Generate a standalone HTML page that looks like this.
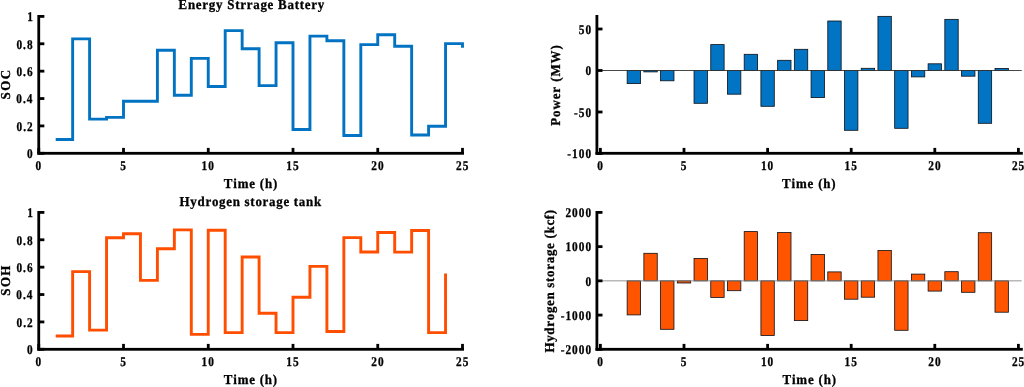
<!DOCTYPE html>
<html><head><meta charset="utf-8"><style>
html,body{margin:0;padding:0;background:#fff;}
body{width:1024px;height:387px;overflow:hidden;}
svg{display:block;will-change:transform;}
text{font-family:"Liberation Serif", serif;font-weight:bold;fill:#000;stroke:#000;stroke-width:0.3px;font-kerning:none;font-variant-ligatures:none;text-rendering:geometricPrecision;}
</style></head><body>
<svg width="1024" height="387" viewBox="0 0 1024 387">
<rect x="37.35" y="15.00" width="2.8" height="139.70" fill="#000"/>
<rect x="37.35" y="151.90" width="426.65" height="2.8" fill="#000"/>
<rect x="38.75" y="151.90" width="5.6" height="2.8" fill="#000"/>
<rect x="38.75" y="124.52" width="5.6" height="2.8" fill="#000"/>
<rect x="38.75" y="97.14" width="5.6" height="2.8" fill="#000"/>
<rect x="38.75" y="69.76" width="5.6" height="2.8" fill="#000"/>
<rect x="38.75" y="42.38" width="5.6" height="2.8" fill="#000"/>
<rect x="38.75" y="15.00" width="5.6" height="2.8" fill="#000"/>
<rect x="37.35" y="147.90" width="2.8" height="5.4" fill="#000"/>
<rect x="122.10" y="147.90" width="2.8" height="5.4" fill="#000"/>
<rect x="206.85" y="147.90" width="2.8" height="5.4" fill="#000"/>
<rect x="291.60" y="147.90" width="2.8" height="5.4" fill="#000"/>
<rect x="376.35" y="147.90" width="2.8" height="5.4" fill="#000"/>
<rect x="461.10" y="147.90" width="2.8" height="5.4" fill="#000"/>
<text transform="translate(27.03 158.06) scale(0.85 1)" font-size="13.3" letter-spacing="1.200">0</text>
<text transform="translate(16.56 130.68) scale(0.85 1)" font-size="13.3" letter-spacing="1.200">0.2</text>
<text transform="translate(16.29 103.30) scale(0.85 1)" font-size="13.3" letter-spacing="1.200">0.4</text>
<text transform="translate(16.41 75.92) scale(0.85 1)" font-size="13.3" letter-spacing="1.200">0.6</text>
<text transform="translate(16.45 48.54) scale(0.85 1)" font-size="13.3" letter-spacing="1.200">0.8</text>
<text transform="translate(27.18 21.16) scale(0.85 1)" font-size="13.3" letter-spacing="1.200">1</text>
<text transform="translate(35.62 170.30) scale(0.85 1)" font-size="13.3" letter-spacing="1.200">0</text>
<text transform="translate(120.35 170.30) scale(0.85 1)" font-size="13.3" letter-spacing="1.200">5</text>
<text transform="translate(201.55 170.30) scale(0.85 1)" font-size="13.3" letter-spacing="1.200">10</text>
<text transform="translate(286.29 170.30) scale(0.85 1)" font-size="13.3" letter-spacing="1.200">15</text>
<text transform="translate(371.27 170.30) scale(0.85 1)" font-size="13.3" letter-spacing="1.200">20</text>
<text transform="translate(456.01 170.30) scale(0.85 1)" font-size="13.3" letter-spacing="1.200">25</text>
<polyline fill="none" stroke="#0273C2" stroke-width="2.9" stroke-linejoin="miter" stroke-linecap="butt" points="55.70,139.50 72.65,139.50 72.65,38.90 89.60,38.90 89.60,119.10 106.55,119.10 106.55,117.40 123.50,117.40 123.50,101.30 140.45,101.30 140.45,101.30 157.40,101.30 157.40,50.20 174.35,50.20 174.35,95.30 191.30,95.30 191.30,58.40 208.25,58.40 208.25,86.50 225.20,86.50 225.20,30.60 242.15,30.60 242.15,48.70 259.10,48.70 259.10,85.60 276.05,85.60 276.05,42.80 293.00,42.80 293.00,129.50 309.95,129.50 309.95,36.10 326.90,36.10 326.90,40.70 343.85,40.70 343.85,135.50 360.80,135.50 360.80,44.60 377.75,44.60 377.75,34.70 394.70,34.70 394.70,46.20 411.65,46.20 411.65,135.00 428.60,135.00 428.60,126.30 445.55,126.30 445.55,43.65 462.50,43.65 462.50,47.80"/>
<rect x="37.35" y="211.00" width="2.8" height="139.70" fill="#000"/>
<rect x="37.35" y="347.90" width="426.65" height="2.8" fill="#000"/>
<rect x="38.75" y="347.90" width="5.6" height="2.8" fill="#000"/>
<rect x="38.75" y="320.52" width="5.6" height="2.8" fill="#000"/>
<rect x="38.75" y="293.14" width="5.6" height="2.8" fill="#000"/>
<rect x="38.75" y="265.76" width="5.6" height="2.8" fill="#000"/>
<rect x="38.75" y="238.38" width="5.6" height="2.8" fill="#000"/>
<rect x="38.75" y="211.00" width="5.6" height="2.8" fill="#000"/>
<rect x="37.35" y="343.90" width="2.8" height="5.4" fill="#000"/>
<rect x="122.10" y="343.90" width="2.8" height="5.4" fill="#000"/>
<rect x="206.85" y="343.90" width="2.8" height="5.4" fill="#000"/>
<rect x="291.60" y="343.90" width="2.8" height="5.4" fill="#000"/>
<rect x="376.35" y="343.90" width="2.8" height="5.4" fill="#000"/>
<rect x="461.10" y="343.90" width="2.8" height="5.4" fill="#000"/>
<text transform="translate(27.03 354.06) scale(0.85 1)" font-size="13.3" letter-spacing="1.200">0</text>
<text transform="translate(16.56 326.68) scale(0.85 1)" font-size="13.3" letter-spacing="1.200">0.2</text>
<text transform="translate(16.29 299.30) scale(0.85 1)" font-size="13.3" letter-spacing="1.200">0.4</text>
<text transform="translate(16.41 271.92) scale(0.85 1)" font-size="13.3" letter-spacing="1.200">0.6</text>
<text transform="translate(16.45 244.54) scale(0.85 1)" font-size="13.3" letter-spacing="1.200">0.8</text>
<text transform="translate(27.18 217.16) scale(0.85 1)" font-size="13.3" letter-spacing="1.200">1</text>
<text transform="translate(35.62 366.30) scale(0.85 1)" font-size="13.3" letter-spacing="1.200">0</text>
<text transform="translate(120.35 366.30) scale(0.85 1)" font-size="13.3" letter-spacing="1.200">5</text>
<text transform="translate(201.55 366.30) scale(0.85 1)" font-size="13.3" letter-spacing="1.200">10</text>
<text transform="translate(286.29 366.30) scale(0.85 1)" font-size="13.3" letter-spacing="1.200">15</text>
<text transform="translate(371.27 366.30) scale(0.85 1)" font-size="13.3" letter-spacing="1.200">20</text>
<text transform="translate(456.01 366.30) scale(0.85 1)" font-size="13.3" letter-spacing="1.200">25</text>
<polyline fill="none" stroke="#FF4E00" stroke-width="2.9" stroke-linejoin="miter" stroke-linecap="butt" points="55.70,336.00 72.65,336.00 72.65,271.60 89.60,271.60 89.60,330.10 106.55,330.10 106.55,237.80 123.50,237.80 123.50,233.80 140.45,233.80 140.45,280.40 157.40,280.40 157.40,248.70 174.35,248.70 174.35,229.90 191.30,229.90 191.30,334.40 208.25,334.40 208.25,230.30 225.20,230.30 225.20,332.60 242.15,332.60 242.15,257.00 259.10,257.00 259.10,313.20 276.05,313.20 276.05,332.60 293.00,332.60 293.00,297.30 309.95,297.30 309.95,266.40 326.90,266.40 326.90,331.50 343.85,331.50 343.85,237.60 360.80,237.60 360.80,252.00 377.75,252.00 377.75,232.50 394.70,232.50 394.70,252.10 411.65,252.10 411.65,230.50 428.60,230.50 428.60,332.60 445.55,332.60 445.55,273.40"/>
<text transform="translate(178.53 9.25) scale(0.95 1)" font-size="13.6" letter-spacing="0.796">Energy Strrage Battery</text>
<text transform="translate(179.58 206.40) scale(0.95 1)" font-size="13.6" letter-spacing="0.766">Hydrogen storage tank</text>
<text transform="translate(223.85 187.70) scale(0.95 1)" font-size="13.6" letter-spacing="0.864">Time (h)</text>
<text transform="translate(223.85 383.90) scale(0.95 1)" font-size="13.6" letter-spacing="0.834">Time (h)</text>
<text transform="translate(9.80 99.54) rotate(-90) scale(0.95 1)" font-size="13.6" letter-spacing="1.635">SOC</text>
<text transform="translate(9.80 295.64) rotate(-90) scale(0.95 1)" font-size="13.6" letter-spacing="1.430">SOH</text>
<rect x="627.15" y="70.50" width="13.38" height="13.10" fill="#0274C4" stroke="#0c0f16" stroke-width="0.8"/>
<rect x="643.87" y="70.50" width="13.38" height="1.40" fill="#0274C4" stroke="#0c0f16" stroke-width="0.8"/>
<rect x="660.59" y="70.50" width="13.38" height="10.30" fill="#0274C4" stroke="#0c0f16" stroke-width="0.8"/>
<rect x="677.31" y="70.50" width="13.38" height="0.00" fill="#0274C4" stroke="#0c0f16" stroke-width="0.8"/>
<rect x="694.03" y="70.50" width="13.38" height="32.80" fill="#0274C4" stroke="#0c0f16" stroke-width="0.8"/>
<rect x="710.75" y="44.60" width="13.38" height="25.90" fill="#0274C4" stroke="#0c0f16" stroke-width="0.8"/>
<rect x="727.47" y="70.50" width="13.38" height="23.70" fill="#0274C4" stroke="#0c0f16" stroke-width="0.8"/>
<rect x="744.19" y="54.30" width="13.38" height="16.20" fill="#0274C4" stroke="#0c0f16" stroke-width="0.8"/>
<rect x="760.91" y="70.50" width="13.38" height="35.80" fill="#0274C4" stroke="#0c0f16" stroke-width="0.8"/>
<rect x="777.63" y="60.30" width="13.38" height="10.20" fill="#0274C4" stroke="#0c0f16" stroke-width="0.8"/>
<rect x="794.35" y="49.30" width="13.38" height="21.20" fill="#0274C4" stroke="#0c0f16" stroke-width="0.8"/>
<rect x="811.07" y="70.50" width="13.38" height="27.10" fill="#0274C4" stroke="#0c0f16" stroke-width="0.8"/>
<rect x="827.79" y="21.00" width="13.38" height="49.50" fill="#0274C4" stroke="#0c0f16" stroke-width="0.8"/>
<rect x="844.51" y="70.50" width="13.38" height="59.80" fill="#0274C4" stroke="#0c0f16" stroke-width="0.8"/>
<rect x="861.23" y="68.30" width="13.38" height="2.20" fill="#0274C4" stroke="#0c0f16" stroke-width="0.8"/>
<rect x="877.95" y="16.35" width="13.38" height="54.15" fill="#0274C4" stroke="#0c0f16" stroke-width="0.8"/>
<rect x="894.67" y="70.50" width="13.38" height="57.80" fill="#0274C4" stroke="#0c0f16" stroke-width="0.8"/>
<rect x="911.39" y="70.50" width="13.38" height="6.40" fill="#0274C4" stroke="#0c0f16" stroke-width="0.8"/>
<rect x="928.11" y="63.80" width="13.38" height="6.70" fill="#0274C4" stroke="#0c0f16" stroke-width="0.8"/>
<rect x="944.83" y="19.35" width="13.38" height="51.15" fill="#0274C4" stroke="#0c0f16" stroke-width="0.8"/>
<rect x="961.55" y="70.50" width="13.38" height="5.70" fill="#0274C4" stroke="#0c0f16" stroke-width="0.8"/>
<rect x="978.27" y="70.50" width="13.38" height="52.80" fill="#0274C4" stroke="#0c0f16" stroke-width="0.8"/>
<rect x="994.99" y="68.40" width="13.38" height="2.10" fill="#0274C4" stroke="#0c0f16" stroke-width="0.8"/>
<line x1="596.9" y1="70.5" x2="1021.7" y2="70.5" stroke="#333" stroke-width="0.9"/>
<rect x="595.50" y="15.00" width="2.8" height="139.70" fill="#000"/>
<rect x="595.50" y="151.90" width="427.30" height="2.8" fill="#000"/>
<rect x="596.90" y="152.10" width="5.6" height="2.8" fill="#000"/>
<rect x="596.90" y="110.60" width="5.6" height="2.8" fill="#000"/>
<rect x="596.90" y="69.10" width="5.6" height="2.8" fill="#000"/>
<rect x="596.90" y="27.60" width="5.6" height="2.8" fill="#000"/>
<rect x="599.00" y="147.90" width="2.8" height="5.4" fill="#000"/>
<rect x="682.60" y="147.90" width="2.8" height="5.4" fill="#000"/>
<rect x="766.20" y="147.90" width="2.8" height="5.4" fill="#000"/>
<rect x="849.80" y="147.90" width="2.8" height="5.4" fill="#000"/>
<rect x="933.40" y="147.90" width="2.8" height="5.4" fill="#000"/>
<rect x="1017.00" y="147.90" width="2.8" height="5.4" fill="#000"/>
<text transform="translate(567.30 158.26) scale(0.85 1)" font-size="13.3" letter-spacing="1.200">-100</text>
<text transform="translate(573.97 116.76) scale(0.85 1)" font-size="13.3" letter-spacing="1.200">-50</text>
<text transform="translate(585.43 75.26) scale(0.85 1)" font-size="13.3" letter-spacing="1.200">0</text>
<text transform="translate(578.76 33.76) scale(0.85 1)" font-size="13.3" letter-spacing="1.200">50</text>
<text transform="translate(597.27 170.30) scale(0.85 1)" font-size="13.3" letter-spacing="1.200">0</text>
<text transform="translate(680.85 170.30) scale(0.85 1)" font-size="13.3" letter-spacing="1.200">5</text>
<text transform="translate(760.90 170.30) scale(0.85 1)" font-size="13.3" letter-spacing="1.200">10</text>
<text transform="translate(844.49 170.30) scale(0.85 1)" font-size="13.3" letter-spacing="1.200">15</text>
<text transform="translate(928.32 170.30) scale(0.85 1)" font-size="13.3" letter-spacing="1.200">20</text>
<text transform="translate(1011.91 170.30) scale(0.85 1)" font-size="13.3" letter-spacing="1.200">25</text>
<rect x="627.15" y="280.85" width="13.38" height="34.05" fill="#FF5500" stroke="#0c0f16" stroke-width="0.8"/>
<rect x="643.87" y="253.30" width="13.38" height="27.55" fill="#FF5500" stroke="#0c0f16" stroke-width="0.8"/>
<rect x="660.59" y="280.85" width="13.38" height="48.45" fill="#FF5500" stroke="#0c0f16" stroke-width="0.8"/>
<rect x="677.31" y="280.85" width="13.38" height="2.15" fill="#FF5500" stroke="#0c0f16" stroke-width="0.8"/>
<rect x="694.03" y="258.40" width="13.38" height="22.45" fill="#FF5500" stroke="#0c0f16" stroke-width="0.8"/>
<rect x="710.75" y="280.85" width="13.38" height="16.55" fill="#FF5500" stroke="#0c0f16" stroke-width="0.8"/>
<rect x="727.47" y="280.85" width="13.38" height="9.85" fill="#FF5500" stroke="#0c0f16" stroke-width="0.8"/>
<rect x="744.19" y="231.60" width="13.38" height="49.25" fill="#FF5500" stroke="#0c0f16" stroke-width="0.8"/>
<rect x="760.91" y="280.85" width="13.38" height="54.65" fill="#FF5500" stroke="#0c0f16" stroke-width="0.8"/>
<rect x="777.63" y="232.50" width="13.38" height="48.35" fill="#FF5500" stroke="#0c0f16" stroke-width="0.8"/>
<rect x="794.35" y="280.85" width="13.38" height="39.75" fill="#FF5500" stroke="#0c0f16" stroke-width="0.8"/>
<rect x="811.07" y="254.40" width="13.38" height="26.45" fill="#FF5500" stroke="#0c0f16" stroke-width="0.8"/>
<rect x="827.79" y="271.90" width="13.38" height="8.95" fill="#FF5500" stroke="#0c0f16" stroke-width="0.8"/>
<rect x="844.51" y="280.85" width="13.38" height="18.35" fill="#FF5500" stroke="#0c0f16" stroke-width="0.8"/>
<rect x="861.23" y="280.85" width="13.38" height="16.35" fill="#FF5500" stroke="#0c0f16" stroke-width="0.8"/>
<rect x="877.95" y="250.40" width="13.38" height="30.45" fill="#FF5500" stroke="#0c0f16" stroke-width="0.8"/>
<rect x="894.67" y="280.85" width="13.38" height="49.45" fill="#FF5500" stroke="#0c0f16" stroke-width="0.8"/>
<rect x="911.39" y="274.10" width="13.38" height="6.75" fill="#FF5500" stroke="#0c0f16" stroke-width="0.8"/>
<rect x="928.11" y="280.85" width="13.38" height="10.25" fill="#FF5500" stroke="#0c0f16" stroke-width="0.8"/>
<rect x="944.83" y="271.70" width="13.38" height="9.15" fill="#FF5500" stroke="#0c0f16" stroke-width="0.8"/>
<rect x="961.55" y="280.85" width="13.38" height="11.45" fill="#FF5500" stroke="#0c0f16" stroke-width="0.8"/>
<rect x="978.27" y="232.70" width="13.38" height="48.15" fill="#FF5500" stroke="#0c0f16" stroke-width="0.8"/>
<rect x="994.99" y="280.85" width="13.38" height="31.35" fill="#FF5500" stroke="#0c0f16" stroke-width="0.8"/>
<line x1="596.9" y1="280.85" x2="1021.7" y2="280.85" stroke="#888" stroke-width="0.9"/>
<rect x="595.50" y="211.00" width="2.8" height="139.70" fill="#000"/>
<rect x="595.50" y="347.90" width="427.30" height="2.8" fill="#000"/>
<rect x="596.90" y="347.90" width="5.6" height="2.8" fill="#000"/>
<rect x="596.90" y="313.68" width="5.6" height="2.8" fill="#000"/>
<rect x="596.90" y="279.45" width="5.6" height="2.8" fill="#000"/>
<rect x="596.90" y="245.23" width="5.6" height="2.8" fill="#000"/>
<rect x="596.90" y="211.00" width="5.6" height="2.8" fill="#000"/>
<rect x="599.00" y="343.90" width="2.8" height="5.4" fill="#000"/>
<rect x="682.60" y="343.90" width="2.8" height="5.4" fill="#000"/>
<rect x="766.20" y="343.90" width="2.8" height="5.4" fill="#000"/>
<rect x="849.80" y="343.90" width="2.8" height="5.4" fill="#000"/>
<rect x="933.40" y="343.90" width="2.8" height="5.4" fill="#000"/>
<rect x="1017.00" y="343.90" width="2.8" height="5.4" fill="#000"/>
<text transform="translate(560.63 354.06) scale(0.85 1)" font-size="13.3" letter-spacing="1.200">-2000</text>
<text transform="translate(560.63 319.83) scale(0.85 1)" font-size="13.3" letter-spacing="1.200">-1000</text>
<text transform="translate(585.43 285.61) scale(0.85 1)" font-size="13.3" letter-spacing="1.200">0</text>
<text transform="translate(565.41 251.38) scale(0.85 1)" font-size="13.3" letter-spacing="1.200">1000</text>
<text transform="translate(565.41 217.16) scale(0.85 1)" font-size="13.3" letter-spacing="1.200">2000</text>
<text transform="translate(597.27 366.40) scale(0.85 1)" font-size="13.3" letter-spacing="1.200">0</text>
<text transform="translate(680.85 366.40) scale(0.85 1)" font-size="13.3" letter-spacing="1.200">5</text>
<text transform="translate(760.90 366.40) scale(0.85 1)" font-size="13.3" letter-spacing="1.200">10</text>
<text transform="translate(844.49 366.40) scale(0.85 1)" font-size="13.3" letter-spacing="1.200">15</text>
<text transform="translate(928.32 366.40) scale(0.85 1)" font-size="13.3" letter-spacing="1.200">20</text>
<text transform="translate(1011.91 366.40) scale(0.85 1)" font-size="13.3" letter-spacing="1.200">25</text>
<text transform="translate(782.05 187.70) scale(0.95 1)" font-size="13.6" letter-spacing="0.879">Time (h)</text>
<text transform="translate(782.45 383.90) scale(0.95 1)" font-size="13.6" letter-spacing="0.894">Time (h)</text>
<text transform="translate(560.10 125.87) rotate(-90) scale(0.95 1)" font-size="13.6" letter-spacing="1.004">Power (MW)</text>
<text transform="translate(553.90 352.57) rotate(-90) scale(0.95 1)" font-size="13.6" letter-spacing="0.754">Hydrogen storage (kcf)</text>
</svg>
</body></html>
